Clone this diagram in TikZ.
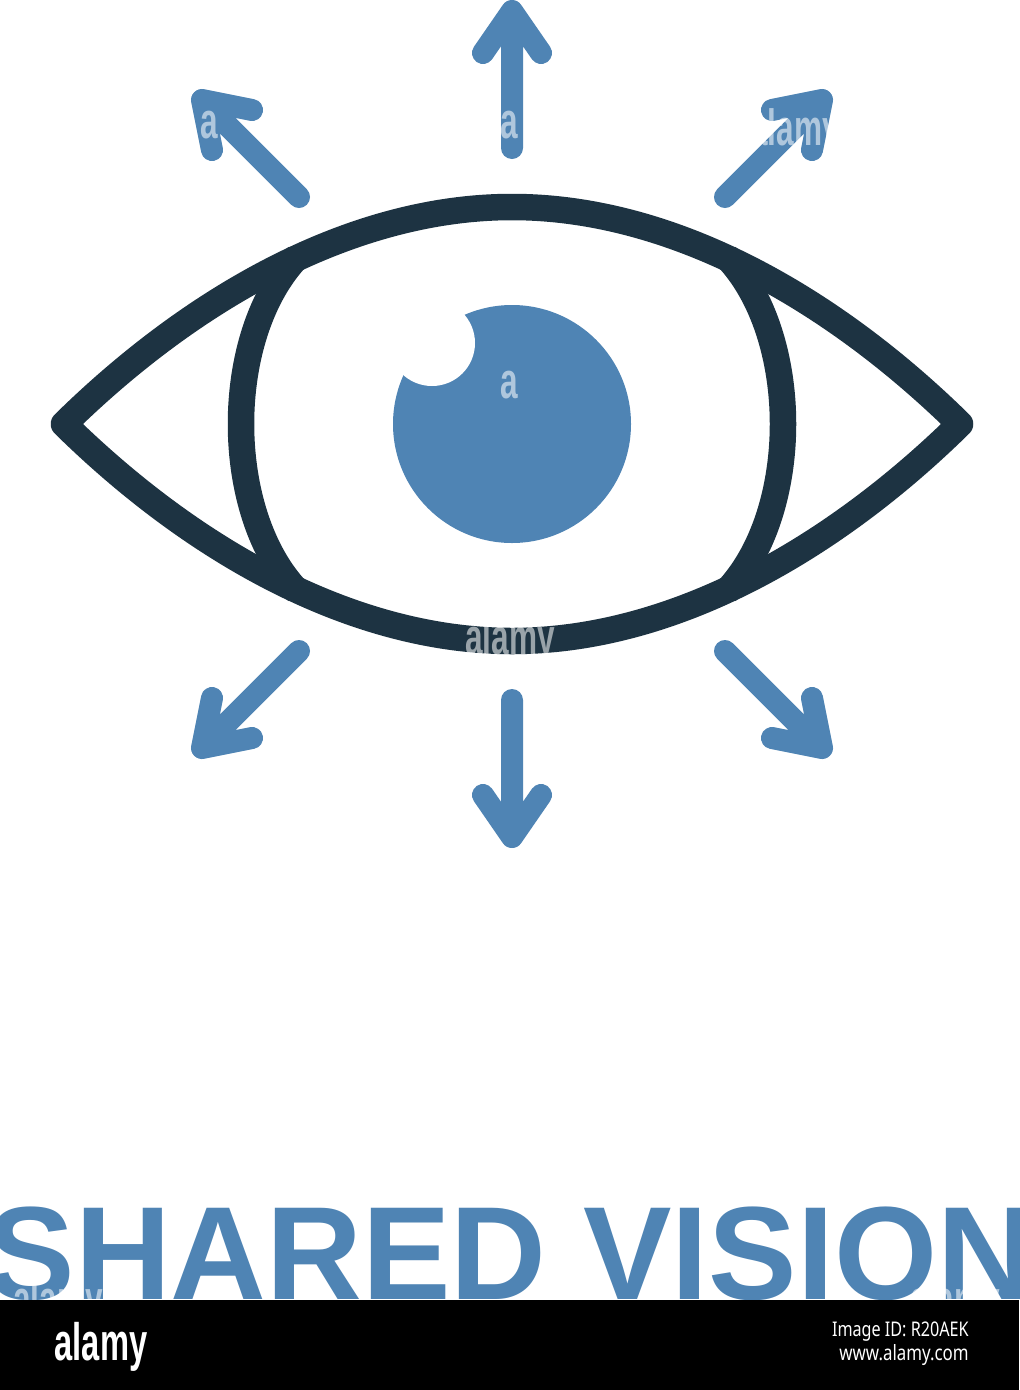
\documentclass[tikz,border=0pt]{standalone}
\usepackage{fontspec}
\setmainfont{Liberation Sans}
\newfontfamily\logofont{Liberation Sans}[FakeStretch=0.62]
\newfontfamily\capfont{Noto Sans}[FakeStretch=0.8]
\definecolor{iconblue}{HTML}{4F84B4}
\definecolor{eyedark}{HTML}{1D3342}
\tikzset{
  x=0.02cm,y=-0.02cm,
  eyeline/.style={draw=eyedark,line width=26.5*0.02cm,line join=round,line cap=round},
  arrowline/.style={draw=iconblue,line width=22*0.02cm,line join=round,line cap=round},
  mark text/.style={text=white,text opacity=0.55,inner sep=0,font=\logofont\bfseries\fontsize{29}{29}\selectfont},
}
\begin{document}
\begin{tikzpicture}
\useasboundingbox (0,0) rectangle (1019,1390);
\fill[white] (0,0) rectangle (1019,1390);
% arrows
\draw[arrowline] (512,148) -- (512,11) (483,53) -- (512,11) -- (541,53);
\draw[arrowline] (512,700) -- (512,837) (483,795) -- (512,837) -- (541,795);
\draw[arrowline] (299,197) -- (202,100) (252,110) -- (202,100) -- (212,150);
\draw[arrowline] (725,197) -- (822,100) (772,110) -- (822,100) -- (812,150);
\draw[arrowline] (299,651) -- (202,748) (252,738) -- (202,748) -- (212,698);
\draw[arrowline] (725,651) -- (822,748) (772,738) -- (822,748) -- (812,698);
% eye outline
\draw[eyeline] (64,424) .. controls (190,300) and (350,207) .. (512,207)
  .. controls (674,207) and (834,300) .. (960,424)
  .. controls (834,548) and (674,641) .. (512,641)
  .. controls (350,641) and (190,548) .. (64,424) -- cycle;
\draw[eyeline,line cap=butt] (298,256) .. controls (222,335) and (222,513) .. (298,592);
\draw[eyeline,line cap=butt] (726,256) .. controls (802,335) and (802,513) .. (726,592);
% pupil
\fill[iconblue] (512,424) circle[radius=119];
\fill[white] (432,343) circle[radius=43];
% watermark fragments
\node[mark text,anchor=base] (wm1) at (795,145) {alamy};
\node[mark text,anchor=base] (wm2) at (509,138) {a};
\node[mark text,anchor=base] (wm3) at (209,138) {a};
\node[mark text,anchor=base] (wm4) at (509,398) {a};
\node[mark text,anchor=base] (wm5) at (510,654) {alamy};
% title
\node[anchor=base,inner sep=0,text=iconblue,font=\bfseries\fontsize{75.5}{75.5}\selectfont] (title) at (510,1299) {SHARED VISION};
\node[mark text,anchor=base] (wm6) at (58,1316) {alamy};
\node[mark text,anchor=base] (wm7) at (955,1316) {alamy};
% footer
\fill[black] (0,1300) rectangle (1019,1390);
\node[anchor=base,inner sep=0,text=white,font=\logofont\bfseries\fontsize{30}{30}\selectfont] (logo) at (101,1360) {alamy};
\node[anchor=base east,inner sep=0,text=white,font=\capfont\fontsize{11.5}{11.5}\selectfont] (imgid) at (969,1336) {Image ID: R20AEK};
\node[anchor=base east,inner sep=0,text=white,font=\capfont\bfseries\fontsize{12}{12}\selectfont] (site) at (969,1360) {www.alamy.com};
\end{tikzpicture}
\end{document}
